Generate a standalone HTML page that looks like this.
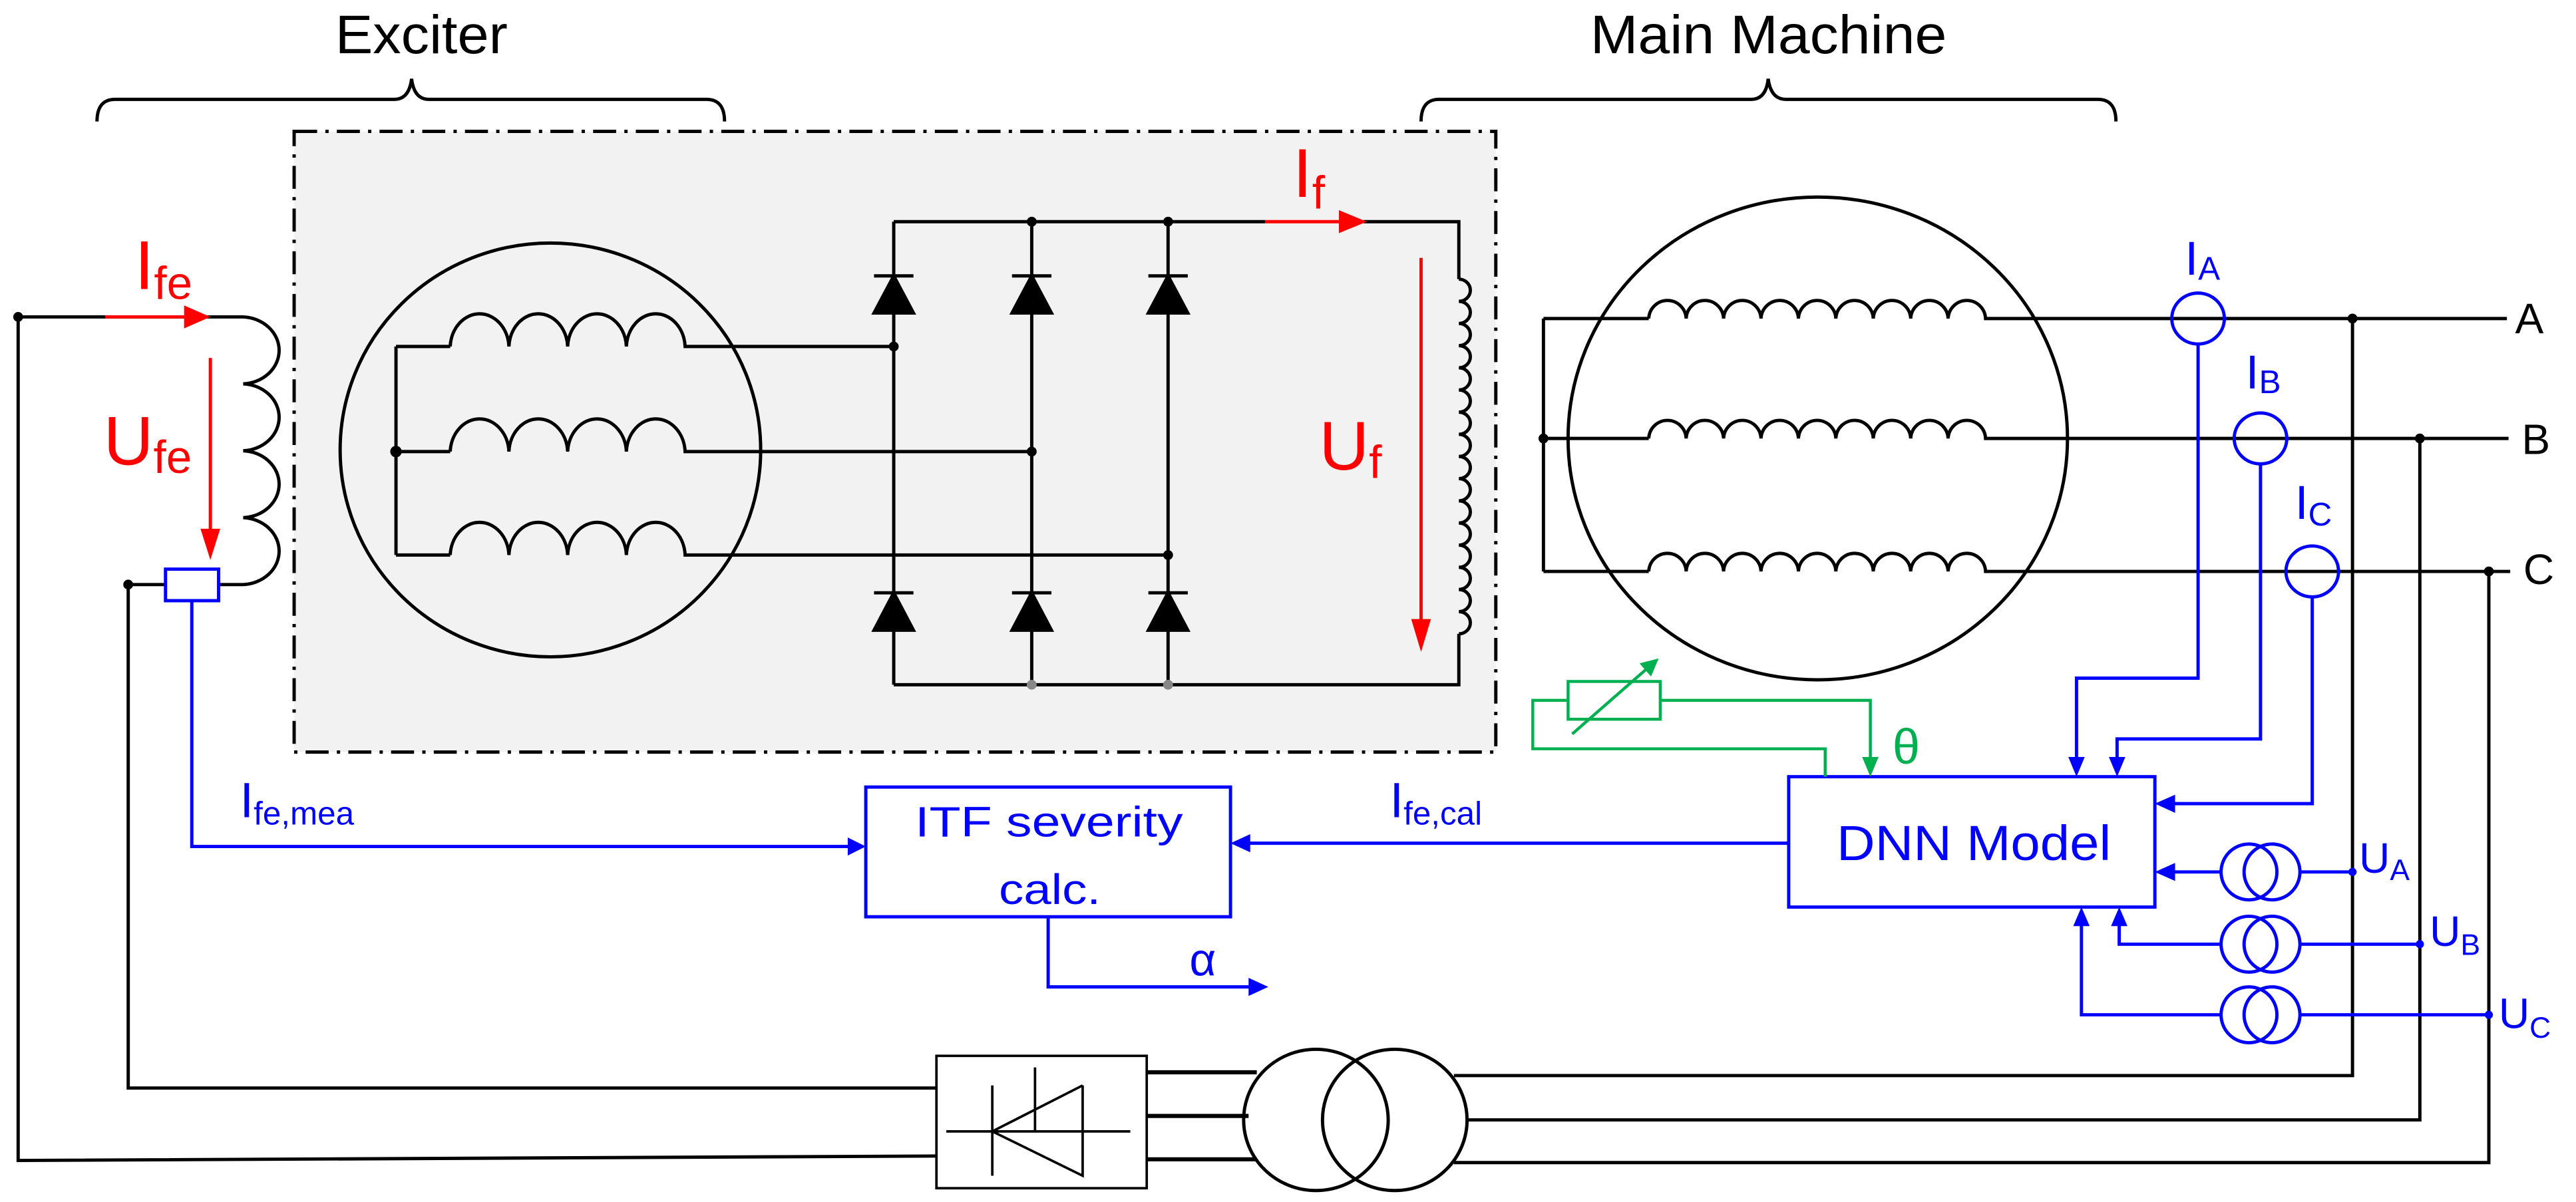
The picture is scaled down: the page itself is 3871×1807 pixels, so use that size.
<!DOCTYPE html>
<html><head><meta charset="utf-8"><style>
html,body{margin:0;padding:0;background:#fff}
svg{display:block}
text{font-family:"Liberation Sans",sans-serif}
</style></head><body>
<svg width="3871" height="1807" viewBox="0 0 1568 732" xmlns="http://www.w3.org/2000/svg">
<rect width="1568" height="732" fill="#fff"/>
<rect x="179" y="80" width="731.5" height="378" fill="#f2f2f2" stroke="#000" stroke-width="2" stroke-dasharray="14,5,2,5"/>
<g fill="none" stroke="#000" stroke-width="2">
<path d="M59,74 Q59,60.5 70,60.5 L240,60.5 Q249,60.5 250.5,48 Q252,60.5 261,60.5 L430,60.5 Q441,60.5 441,74"/>
<path d="M865,74 Q865,60.5 876,60.5 L1066,60.5 Q1075,60.5 1076.3,48 Q1078,60.5 1087,60.5 L1277,60.5 Q1288,60.5 1288,74"/>
</g>
<text x="204" y="32.5" font-size="33" textLength="105" lengthAdjust="spacingAndGlyphs">Exciter</text>
<text x="968" y="32.5" font-size="33" textLength="217" lengthAdjust="spacingAndGlyphs">Main Machine</text>

<g fill="none" stroke="#000" stroke-width="2">
<ellipse cx="335" cy="274" rx="128" ry="126"/>
<path d="M241,211 L241,338 M241,211 H274 M241,275 H274 M241,338 H274"/>
<path d="M274,211 a17.9,21 0 0 1 35.75,0 a17.9,21 0 0 1 35.75,0 a17.9,21 0 0 1 35.75,0 a17.9,21 0 0 1 35.75,0 H544"/>
<path d="M274,275 a17.9,21 0 0 1 35.75,0 a17.9,21 0 0 1 35.75,0 a17.9,21 0 0 1 35.75,0 a17.9,21 0 0 1 35.75,0 H628"/>
<path d="M274,338 a17.9,21 0 0 1 35.75,0 a17.9,21 0 0 1 35.75,0 a17.9,21 0 0 1 35.75,0 a17.9,21 0 0 1 35.75,0 H711"/>
<path d="M544,135 H770 M544,135 V417 M628,135 V417 M711,135 V417 M544,417 H888 V386 M830,135 H888 V170"/>
<path d="M888,170 a7,6.75 0 0 1 0,13.5 a7,6.75 0 0 1 0,13.5 a7,6.75 0 0 1 0,13.5 a7,6.75 0 0 1 0,13.5 a7,6.75 0 0 1 0,13.5 a7,6.75 0 0 1 0,13.5 a7,6.75 0 0 1 0,13.5 a7,6.75 0 0 1 0,13.5 a7,6.75 0 0 1 0,13.5 a7,6.75 0 0 1 0,13.5 a7,6.75 0 0 1 0,13.5 a7,6.75 0 0 1 0,13.5 a7,6.75 0 0 1 0,13.5 a7,6.75 0 0 1 0,13.5 a7,6.75 0 0 1 0,13.5 a7,6.75 0 0 1 0,13.5"/>
<path d="M11,193 V706.7 L570,704 M78,356 V662.6 H570 M11,193 H148"/>
<path d="M148,193 a23,20.4 0 0 1 0,40.75 a23,20.4 0 0 1 0,40.75 a23,20.4 0 0 1 0,40.75 a23,20.4 0 0 1 0,40.75 H133 M100,356 H78"/>
<ellipse cx="1106.5" cy="267" rx="152" ry="147"/>
<path d="M939.5,194 V348 M939.5,194 H1003.6 M939.5,267 H1003.6 M939.5,348 H1003.6"/>
<path d="M1003.6,194 a11.4,11.5 0 0 1 22.78,0 a11.4,11.5 0 0 1 22.78,0 a11.4,11.5 0 0 1 22.78,0 a11.4,11.5 0 0 1 22.78,0 a11.4,11.5 0 0 1 22.78,0 a11.4,11.5 0 0 1 22.78,0 a11.4,11.5 0 0 1 22.78,0 a11.4,11.5 0 0 1 22.78,0 a11.4,11.5 0 0 1 22.78,0 H1526"/>
<path d="M1003.6,267 a11.4,11.5 0 0 1 22.78,0 a11.4,11.5 0 0 1 22.78,0 a11.4,11.5 0 0 1 22.78,0 a11.4,11.5 0 0 1 22.78,0 a11.4,11.5 0 0 1 22.78,0 a11.4,11.5 0 0 1 22.78,0 a11.4,11.5 0 0 1 22.78,0 a11.4,11.5 0 0 1 22.78,0 a11.4,11.5 0 0 1 22.78,0 H1527"/>
<path d="M1003.6,348 a11.4,11.5 0 0 1 22.78,0 a11.4,11.5 0 0 1 22.78,0 a11.4,11.5 0 0 1 22.78,0 a11.4,11.5 0 0 1 22.78,0 a11.4,11.5 0 0 1 22.78,0 a11.4,11.5 0 0 1 22.78,0 a11.4,11.5 0 0 1 22.78,0 a11.4,11.5 0 0 1 22.78,0 a11.4,11.5 0 0 1 22.78,0 H1528"/>
<path d="M1432,194 V655 H885 M1473,267 V682 H893 M1515,348 V708 H885"/>
<rect x="570" y="643" width="128" height="80.6" stroke-width="1.5"/>
<path d="M698,653 H765 M698,679.6 H760 M698,706 H765" stroke-width="2.5"/>
<path d="M604,661 V716 M659,661 V716 L604,689 L659,661 M576,689 H688 M630,650 V689" stroke-width="1.5"/>
<ellipse cx="801" cy="682" rx="44" ry="43"/>
<ellipse cx="849" cy="682" rx="44" ry="43"/>
</g>
<g fill="#000" stroke="#000" stroke-width="2">
<path d="M532,190.6 L556,190.6 L544,168 Z M532,168 H556"/>
<path d="M616,190.6 L640,190.6 L628,168 Z M616,168 H640"/>
<path d="M699,190.6 L723,190.6 L711,168 Z M699,168 H723"/>
<path d="M532,383.8 L556,383.8 L544,361 Z M532,361 H556"/>
<path d="M616,383.8 L640,383.8 L628,361 Z M616,361 H640"/>
<path d="M699,383.8 L723,383.8 L711,361 Z M699,361 H723"/>
</g>
<g fill="#000">
<circle cx="241" cy="275" r="3.5"/><circle cx="544" cy="211" r="3"/><circle cx="628" cy="275" r="3"/><circle cx="711" cy="338" r="3"/>
<circle cx="628" cy="135" r="3"/><circle cx="711" cy="135" r="3"/>
<circle cx="11" cy="193" r="3"/><circle cx="78" cy="356" r="3"/>
<circle cx="939.5" cy="267" r="3"/><circle cx="1432" cy="194" r="3"/><circle cx="1473" cy="267" r="3"/><circle cx="1515" cy="348" r="3"/>
</g>
<circle cx="628" cy="417" r="3" fill="#888"/><circle cx="711" cy="417" r="3" fill="#888"/>
<text x="1531" y="203" font-size="26">A</text>
<text x="1535" y="276.5" font-size="26">B</text>
<text x="1536" y="355.6" font-size="26">C</text>

<g stroke="#f00" stroke-width="2" fill="#f00">
<path d="M64,193 H115 M128,218 V325 M770,135 H818 M865,157 V380" fill="none"/>
<polygon points="128,193 112,186 112,200" stroke="none"/>
<polygon points="128,341 122,322 134,322" stroke="none"/>
<polygon points="832,135 815,128 815,142" stroke="none"/>
<polygon points="865,397 859,377 871,377" stroke="none"/>
</g>
<g fill="#f00">
<text x="82" y="176" font-size="42">I<tspan font-size="28" dy="6">fe</tspan></text>
<text x="63" y="283" font-size="42">U<tspan font-size="28" dy="5">fe</tspan></text>
<text x="787" y="120" font-size="42">I<tspan font-size="28" dy="7">f</tspan></text>
<text x="803" y="286" font-size="42">U<tspan font-size="28" dy="5">f</tspan></text>
</g>

<g stroke="#00f" stroke-width="2" fill="none">
<rect x="100.7" y="346.6" width="32.3" height="19.2"/>
<path d="M116.7,366 V515.5 H517"/>
<rect x="527" y="479.3" width="222" height="79"/>
<rect x="1088.8" y="473" width="222.9" height="79.4"/>
<path d="M1088.8,513.5 H760 M638,558.4 V601 H762"/>
<ellipse cx="1338" cy="194" rx="16" ry="15.5"/>
<ellipse cx="1376" cy="267" rx="16" ry="15.5"/>
<ellipse cx="1407.5" cy="348" rx="16" ry="15.5"/>
<path d="M1338,209.5 V413 H1264 V462 M1376,282.5 V450 H1288.7 V462 M1407.5,363.5 V489.4 H1323"/>
<circle cx="1369" cy="531" r="17"/><circle cx="1383" cy="531" r="17"/>
<circle cx="1369" cy="575" r="17"/><circle cx="1383" cy="575" r="17"/>
<circle cx="1369" cy="618" r="17"/><circle cx="1383" cy="618" r="17"/>
<path d="M1400,531 H1432 M1352,531 H1323 M1400,575 H1473 M1352,575 H1290 V563 M1400,618 H1515 M1352,618 H1267 V563"/>
</g>
<g fill="#00f">
<polygon points="527,515.5 516,510 516,521"/>
<polygon points="749,513.5 761,508 761,519"/>
<polygon points="772,601 760,595.5 760,606.5"/>
<polygon points="1264,473 1259,461 1269,461"/>
<polygon points="1288.7,473 1283.7,461 1293.7,461"/>
<polygon points="1311.7,489.4 1324,484 1324,495"/>
<polygon points="1311.7,531 1324,525.5 1324,536.5"/>
<polygon points="1290,552.4 1285,564 1295,564"/>
<polygon points="1267,552.4 1262,564 1272,564"/>
<circle cx="1432" cy="531" r="2.5"/><circle cx="1473" cy="575" r="2.5"/><circle cx="1515" cy="618" r="2.5"/>
<text x="1330" y="167.4" font-size="29">I<tspan font-size="20" dy="3">A</tspan></text>
<text x="1367" y="236.5" font-size="29">I<tspan font-size="20" dy="3">B</tspan></text>
<text x="1397" y="316" font-size="29">I<tspan font-size="20" dy="4">C</tspan></text>
<text x="146" y="497.6" font-size="30">I<tspan font-size="20" dy="4.6">fe,mea</tspan></text>
<text x="846" y="497.6" font-size="30">I<tspan font-size="20" dy="4.6">fe,cal</tspan></text>
<text x="557" y="509.4" font-size="26" textLength="163" lengthAdjust="spacingAndGlyphs">ITF severity</text>
<text x="608" y="550.6" font-size="26" textLength="62" lengthAdjust="spacingAndGlyphs">calc.</text>
<text x="1118" y="523.7" font-size="30" textLength="167" lengthAdjust="spacingAndGlyphs">DNN Model</text>
<text x="724" y="594" font-size="28">α</text>
<text x="1436" y="531.4" font-size="26">U<tspan font-size="18" dy="4.6">A</tspan></text>
<text x="1479" y="576" font-size="26">U<tspan font-size="18" dy="5.6">B</tspan></text>
<text x="1521" y="626" font-size="26">U<tspan font-size="18" dy="6">C</tspan></text>
</g>

<g stroke="#00b050" stroke-width="1.8" fill="none">
<rect x="954.5" y="415" width="56.1" height="23"/>
<path d="M957,447 L1005,405"/>
<path d="M1010.6,426.5 H1138.5 V462 M954.5,426.5 H933 V456 H1111 V473"/>
</g>
<g fill="#00b050">
<polygon points="1009.6,401 998,404 1005,412"/>
<polygon points="1138.5,473 1133.5,461 1143.5,461"/>
<text x="1152" y="465" font-size="30">θ</text>
</g>
</svg>
</body></html>
